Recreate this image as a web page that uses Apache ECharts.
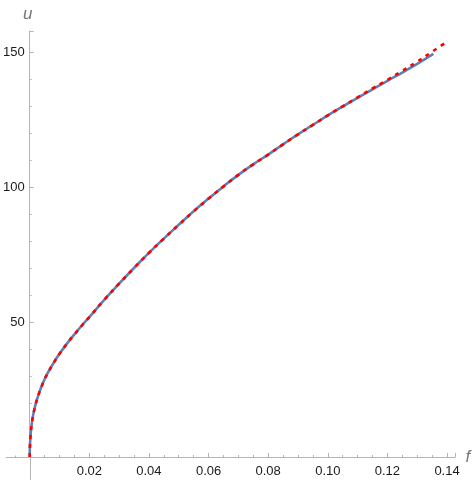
<!DOCTYPE html>
<html>
<head>
<meta charset="utf-8">
<script src="https://cdn.jsdelivr.net/npm/echarts@6/dist/echarts.min.js"></script>
<style>
  html, body { margin: 0; padding: 0; background: #fff; }
  #plot { width: 474px; height: 482px; }
</style>
</head>
<body>
<div id="plot"></div>
<script>
// values
var fBlue = [0, 0.0001, 0.0003, 0.0006, 0.001, 0.0015, 0.002, 0.003, 0.004, 0.005, 0.0065, 0.008, 0.01, 0.0125, 0.015, 0.0175, 0.02, 0.025, 0.03, 0.035, 0.04, 0.045, 0.05, 0.055, 0.06, 0.065, 0.07, 0.075, 0.08, 0.085, 0.09, 0.095, 0.10, 0.105, 0.11, 0.115, 0.12, 0.125, 0.13, 0.1354];
var uBlue = [0, 4.5, 8, 11.5, 14.5, 17.3, 19.6, 23.2, 26.2, 28.8, 32, 34.8, 38.2, 42, 45.4, 48.7, 51.8, 58.2, 64.2, 70, 75.6, 80.9, 86, 91, 95.7, 100.2, 104.5, 108.4, 112, 115.8, 119.5, 123, 126.5, 129.8, 133, 136.2, 139.3, 142.4, 145.6, 149.3];
var fRed = [0, 0.0001, 0.0003, 0.0006, 0.001, 0.0015, 0.002, 0.003, 0.004, 0.005, 0.0065, 0.008, 0.01, 0.0125, 0.015, 0.0175, 0.02, 0.025, 0.03, 0.035, 0.04, 0.045, 0.05, 0.055, 0.06, 0.065, 0.07, 0.075, 0.08, 0.085, 0.09, 0.095, 0.10, 0.105, 0.11, 0.115, 0.12, 0.125, 0.13, 0.135, 0.14];
var uRed = [0, 4.5, 8, 11.5, 14.5, 17.3, 19.6, 23.2, 26.2, 28.8, 32, 34.8, 38.2, 42, 45.4, 48.7, 51.8, 58.2, 64.2, 70, 75.6, 80.9, 86, 91, 95.7, 100.2, 104.5, 108.4, 112, 115.8, 119.5, 123, 126.5, 129.9, 133.2, 136.5, 139.7, 143, 146.4, 150.1, 153.8];

// axis ranges / ticks
var xMax = 0.14267, xStep = 0.02;
var yMax = 157.78, yStep = 50;
// axes poke a little past the origin, like the original
var xStub = -0.008, yStub = -8.5, xStubTick = -0.005;

function pairs(xs, ys) {
  var out = [];
  for (var i = 0; i < xs.length; i++) out.push([xs[i], ys[i]]);
  return out;
}
// label only the positive multiples of the step
function stepLabel(step, digits) {
  return function (v) {
    var k = v / step;
    if (v <= 0 || Math.abs(k - Math.round(k)) > 1e-6) return '';
    return digits ? Number(v).toFixed(digits) : String(Math.round(v));
  };
}

var chart = echarts.init(document.getElementById('plot'));
var axisGray = '#b5b5b5';

var option = {
  animation: false,
  grid: { left: 27, right: 19, top: 31, bottom: 25 },
  xAxis: {
    type: 'value', min: 0, max: xMax, interval: xStep,
    name: 'f', nameLocation: 'end', nameGap: 3,
    nameTextStyle: { fontFamily: 'Liberation Sans', fontStyle: 'italic', fontSize: 17, color: '#777', padding: [0, 0, 2, 0] },
    axisLine: { lineStyle: { color: axisGray, width: 1 } },
    axisTick: { inside: true, length: 4, lineStyle: { color: axisGray } },
    minorTick: { show: true, splitNumber: 4, length: 2, lineStyle: { color: axisGray } },
    axisLabel: { margin: 8, color: '#1a1a1a', fontSize: 13, fontFamily: 'Liberation Sans', formatter: stepLabel(xStep, 2) },
    splitLine: { show: false }
  },
  yAxis: {
    type: 'value', min: 0, max: yMax, interval: yStep,
    name: 'u', nameLocation: 'end', nameGap: 8,
    nameTextStyle: { fontFamily: 'Liberation Sans', fontStyle: 'italic', fontSize: 17, color: '#777', padding: [0, 4, 0, 0] },
    axisLine: { lineStyle: { color: axisGray, width: 1 } },
    axisTick: { inside: true, length: 4, lineStyle: { color: axisGray } },
    minorTick: { show: true, splitNumber: 5, length: 2, lineStyle: { color: axisGray } },
    axisLabel: { margin: 5, color: '#1a1a1a', fontSize: 13, fontFamily: 'Liberation Sans', formatter: stepLabel(yStep, 0) },
    splitLine: { show: false }
  },
  series: [
    {
      type: 'line',
      data: pairs(fBlue, uBlue),
      showSymbol: false, smooth: true,
      lineStyle: { color: '#5e81b5', width: 2.6 }
    },
    {
      type: 'line',
      data: pairs(fRed, uRed),
      showSymbol: false, smooth: true,
      lineStyle: { color: '#f00', width: 2.6, type: [4, 5] }
    }
  ]
};

chart.setOption(option);

// short axis stubs past the origin
var o = chart.convertToPixel({ gridIndex: 0 }, [0, 0]);
var sx = chart.convertToPixel({ gridIndex: 0 }, [xStub, 0])[0];
var sy = chart.convertToPixel({ gridIndex: 0 }, [0, yStub])[1];
var tx = chart.convertToPixel({ gridIndex: 0 }, [xStubTick, 0])[0];
var ox = Math.round(o[0]) + 0.5, oy = Math.round(o[1]) + 0.5;
var stub = { stroke: axisGray, lineWidth: 1 };
chart.setOption({
  graphic: [
    { type: 'line', shape: { x1: sx, y1: oy, x2: ox, y2: oy }, style: stub, silent: true },
    { type: 'line', shape: { x1: ox, y1: oy, x2: ox, y2: sy }, style: stub, silent: true },
    { type: 'line', shape: { x1: Math.round(tx) + 0.5, y1: oy, x2: Math.round(tx) + 0.5, y2: oy - 2 }, style: stub, silent: true }
  ]
});
</script>
</body>
</html>
